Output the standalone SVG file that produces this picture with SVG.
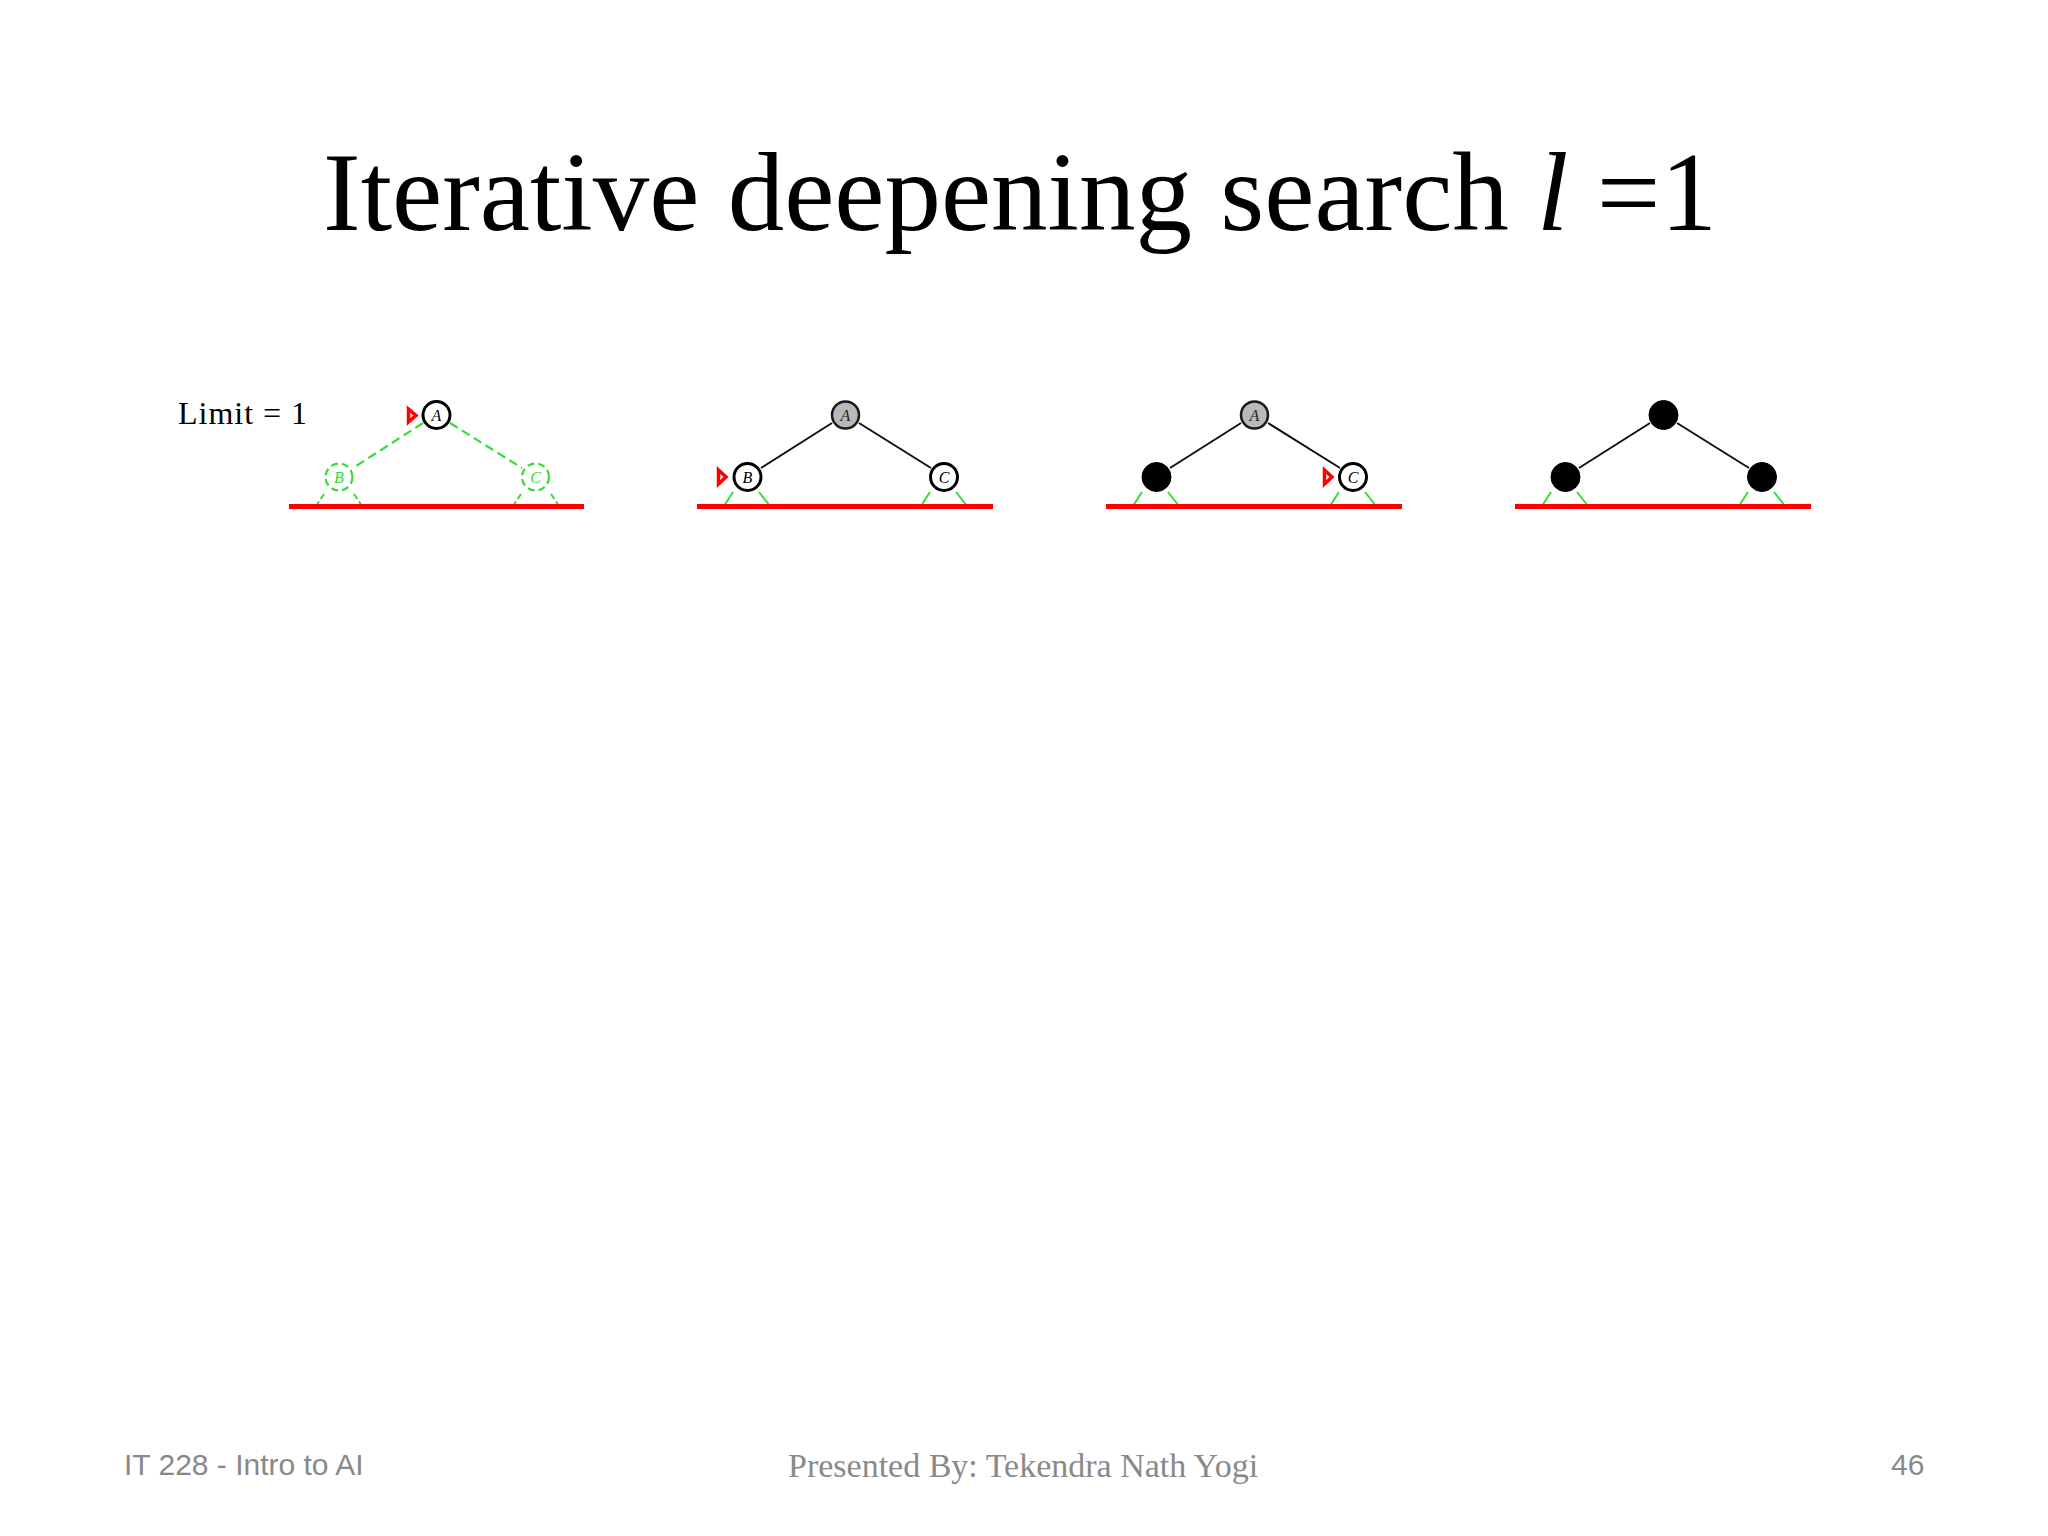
<svg xmlns="http://www.w3.org/2000/svg" width="2048" height="1536" viewBox="0 0 2048 1536">
  <defs>
    <style>
      .title { font-family: "Liberation Serif", "Times New Roman", serif; font-size: 113px; fill: #000; }
      .limit { font-family: "Liberation Serif", "Times New Roman", serif; font-size: 32px; fill: #000; }
      .foot-sans { font-family: "Liberation Sans", Arial, sans-serif; font-size: 30px; fill: #898989; }
      .foot-serif { font-family: "Liberation Serif", "Times New Roman", serif; font-size: 34px; fill: #898989; }
      .lbl { font-family: "Liberation Serif", "Times New Roman", serif; font-style: italic; font-size: 16px; text-anchor: middle; }
      .open { fill: #ffffff; stroke: #000; stroke-width: 3; }
      .grey { fill: #b9b9b9; stroke: #1a1a1a; stroke-width: 2.5; }
      .done { fill: #000; stroke: #000; stroke-width: 1; }
      .unseen { fill: none; stroke: #33dd33; stroke-width: 2.2; stroke-dasharray: 7 4; }
      .edge { stroke: #111; stroke-width: 2; fill: none; }
      .edge-unseen { stroke: #33dd33; stroke-width: 2.2; stroke-dasharray: 9 5; fill: none; }
      .stub { stroke: #33dd33; stroke-width: 2; fill: none; }
      .ground { stroke: #ff0000; stroke-width: 5; fill: none; }
      .marker { fill: #ffffff; stroke: #ff0000; stroke-width: 3.5; stroke-linejoin: miter; }
    </style>
  </defs>
  <rect width="2048" height="1536" fill="#ffffff"/>

  <text class="title" x="323" y="230">Iterative deepening search <tspan font-style="italic">l</tspan> =1</text>
  <text class="limit" x="178" y="424" textLength="129">Limit = 1</text>

  <g id="connectors">
    <!-- tree 1 (A at 436.5,415) -->
    <line class="edge-unseen" x1="423" y1="423" x2="353" y2="468"/>
    <line class="edge-unseen" x1="450" y1="423" x2="522" y2="468"/>
    <!-- tree 2 (A at 845.5) -->
    <line class="edge" x1="832" y1="423" x2="761" y2="468"/>
    <line class="edge" x1="859" y1="423" x2="931" y2="468"/>
    <!-- tree 3 (A at 1254.5) -->
    <line class="edge" x1="1241" y1="423" x2="1170" y2="468"/>
    <line class="edge" x1="1268" y1="423" x2="1340" y2="468"/>
    <!-- tree 4 (A at 1663.5) -->
    <line class="edge" x1="1650" y1="423" x2="1579" y2="468"/>
    <line class="edge" x1="1677" y1="423" x2="1749" y2="468"/>
    <!-- stubs under leaves -->
    <g class="stub">
      <path d="M324 494 L316 506 M354 494 L362 506 M521 494 L513 506 M551 494 L559 506" stroke-dasharray="6 3"/>
      <path d="M733 492 L724 506 M759 492 L770 506 M930 492 L921 506 M956 492 L967 506"/>
      <path d="M1142 492 L1133 506 M1168 492 L1179 506 M1339 492 L1330 506 M1365 492 L1376 506"/>
      <path d="M1551 492 L1542 506 M1577 492 L1588 506 M1748 492 L1739 506 M1774 492 L1785 506"/>
    </g>
    <!-- ground lines -->
    <line class="ground" x1="289" y1="506.5" x2="584" y2="506.5"/>
    <line class="ground" x1="697" y1="506.5" x2="993" y2="506.5"/>
    <line class="ground" x1="1106" y1="506.5" x2="1402" y2="506.5"/>
    <line class="ground" x1="1515" y1="506.5" x2="1811" y2="506.5"/>
  </g>

  <!-- Tree 1 -->
  <g id="t1-A">
    <circle class="open" cx="436.5" cy="415" r="13.5"/>
    <text class="lbl" x="436.5" y="420.5">A</text>
  </g>
  <g id="t1-marker"><polygon class="marker" points="408.5,409 416,415.5 408.5,422"/></g>
  <g id="t1-B">
    <circle class="unseen" cx="339" cy="477" r="13.5"/>
    <text class="lbl" x="339" y="482.5" fill="#33dd33">B</text>
  </g>
  <g id="t1-C">
    <circle class="unseen" cx="535.5" cy="477" r="13.5"/>
    <text class="lbl" x="535.5" y="482.5" fill="#33dd33">C</text>
  </g>

  <!-- Tree 2 -->
  <g id="t2-A">
    <circle class="grey" cx="845.5" cy="415" r="13.5"/>
    <text class="lbl" x="845.5" y="420.5" fill="#222">A</text>
  </g>
  <g id="t2-B">
    <circle class="open" cx="747.5" cy="477" r="13.5"/>
    <text class="lbl" x="747.5" y="482.5">B</text>
  </g>
  <g id="t2-marker"><polygon class="marker" points="718.5,470 726,477 718.5,484"/></g>
  <g id="t2-C">
    <circle class="open" cx="944" cy="477" r="13.5"/>
    <text class="lbl" x="944" y="482.5">C</text>
  </g>

  <!-- Tree 3 -->
  <g id="t3-A">
    <circle class="grey" cx="1254.5" cy="415" r="13.5"/>
    <text class="lbl" x="1254.5" y="420.5" fill="#222">A</text>
  </g>
  <g id="t3-B">
    <circle class="done" cx="1156.5" cy="477" r="14.5"/>
  </g>
  <g id="t3-C">
    <circle class="open" cx="1353" cy="477" r="13.5"/>
    <text class="lbl" x="1353" y="482.5">C</text>
  </g>
  <g id="t3-marker"><polygon class="marker" points="1324.5,470 1332,477 1324.5,484"/></g>

  <!-- Tree 4 -->
  <g id="t4-A">
    <circle class="done" cx="1663.5" cy="415" r="14.5"/>
  </g>
  <g id="t4-B">
    <circle class="done" cx="1565.5" cy="477" r="14.5"/>
  </g>
  <g id="t4-C">
    <circle class="done" cx="1762" cy="477" r="14.5"/>
  </g>

  <!-- Footer -->
  <text class="foot-sans" x="124" y="1475">IT 228 - Intro to AI</text>
  <text class="foot-serif" x="788" y="1477">Presented By: Tekendra Nath Yogi</text>
  <text class="foot-sans" x="1891" y="1475">46</text>
</svg>
